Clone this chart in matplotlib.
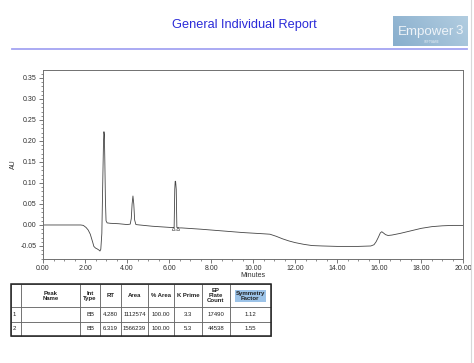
import numpy as np
import matplotlib
matplotlib.use("Agg")
import matplotlib.pyplot as plt
from matplotlib.ticker import MultipleLocator, FormatStrFormatter

plt.rcParams['font.family'] = ['Liberation Sans', 'DejaVu Sans']

# chromatogram trace (minutes, AU)
minutes = [0.00, 1.80, 1.92, 2.05, 2.15, 2.25, 2.31, 2.37, 2.42, 2.50, 2.58, 2.67,
           2.71, 2.75, 2.80, 2.85, 2.88, 2.90, 2.92, 2.94, 2.97, 3.00, 3.05, 3.20,
           3.60, 4.00, 4.15, 4.20, 4.24, 4.28, 4.32, 4.36, 4.42, 4.60, 5.20, 6.10,
           6.24, 6.27, 6.29, 6.31, 6.34, 6.37, 6.44, 6.60, 7.50, 8.50, 9.50, 10.50,
           10.80, 11.10, 11.40, 11.70, 12.00, 12.40, 12.80, 13.30, 14.00, 15.00,
           15.60, 15.75, 15.85, 15.95, 16.05, 16.12, 16.20, 16.30, 16.42, 16.60,
           17.00, 17.50, 18.00, 18.50, 19.00, 19.50, 20.00]
au = [0.000, 0.000, -0.001, -0.006, -0.012, -0.022, -0.032, -0.042, -0.051, -0.055,
      -0.057, -0.060, -0.062, -0.058, -0.020, 0.120, 0.200, 0.222, 0.215, 0.160,
      0.060, 0.010, 0.005, 0.004, 0.003, 0.001, 0.002, 0.015, 0.050, 0.069, 0.050,
      0.012, 0.001, 0.000, -0.003, -0.006, -0.006, 0.085, 0.104, 0.104, 0.085,
      -0.006, -0.007, -0.007, -0.010, -0.014, -0.018, -0.021, -0.022, -0.027,
      -0.033, -0.038, -0.042, -0.046, -0.049, -0.050, -0.051, -0.051, -0.050,
      -0.047, -0.040, -0.030, -0.019, -0.016, -0.019, -0.023, -0.025, -0.024,
      -0.020, -0.014, -0.008, -0.004, -0.002, -0.001, -0.001]

# integration marks around peak 2
mark_t = [6.22, 6.43]
mark_au = [-0.009, -0.009]

# results table
col_labels = ["", "Peak\nName", "Int\nType", "RT", "Area", "% Area", "K Prime",
              "EP\nPlate\nCount", "Symmetry\nFactor"]
row_1 = ["1", "", "BB", "4.280", "1112574", "100.00", "3.3", "17490", "1.12"]
row_2 = ["2", "", "BB", "6.319", "1566239", "100.00", "5.3", "44538", "1.55"]
col_px = [10, 59.5, 19.5, 21.3, 27.3, 26.2, 28, 27.5, 41]

W, H = 474, 363
fig = plt.figure(figsize=(W / 100, H / 100), dpi=100)
fig.patch.set_facecolor('white')

def fbox(x0, y0, x1, y1):
    return [x0 / W, 1 - y1 / H, (x1 - x0) / W, (y1 - y0) / H]

# header
fig.text(244 / W, 1 - 25 / H, "General Individual Report", color='#2a2ad8',
         fontsize=9.2, ha='center', va='center')
fig.add_artist(plt.Line2D([12 / W, 467 / W], [1 - 48.5 / H, 1 - 48.5 / H],
                          color='#a4a4f2', lw=1.3))
fig.add_artist(plt.Line2D([470.5 / W, 470.5 / W], [0, 1], color='#d8d8d8', lw=0.8))

lax = fig.add_axes(fbox(393, 16, 468, 46))
grad = np.linspace(0, 1, 100)[None, :] * np.ones((20, 1))
grad = grad + 0.3 * np.linspace(1, 0, 20)[:, None]
lax.imshow(grad, cmap=matplotlib.colors.LinearSegmentedColormap.from_list(
    'logo', ['#88aecd', '#b2cde0']), aspect='auto', extent=[0, 1, 0, 1])
lax.text(0.07, 0.36, "Empower", color='#eef3f8', fontsize=9.6, va='baseline', ha='left')
lax.text(0.84, 0.40, "3", color='#eef3f8', fontsize=9.6, va='baseline', ha='left')
lax.text(0.52, 0.14, "SOFTWARE", color='#e8eef5', fontsize=2, va='center', ha='center')
lax.set_axis_off()

# chromatogram
ax = fig.add_axes(fbox(43, 70, 463.3, 259))
ax.plot(minutes, au, color='#454545', lw=0.6)
ax.scatter(mark_t, mark_au, marker='^', s=5, facecolors='none', edgecolors='#404040',
           linewidths=0.4, zorder=3)
ax.set_xlim(0, 20)
ax.set_ylim(-0.081, 0.369)
ax.xaxis.set_major_locator(MultipleLocator(2))
ax.xaxis.set_minor_locator(MultipleLocator(0.5))
ax.yaxis.set_major_locator(MultipleLocator(0.05))
ax.yaxis.set_minor_locator(MultipleLocator(0.01))
ax.xaxis.set_major_formatter(FormatStrFormatter('%.2f'))
ax.yaxis.set_major_formatter(FormatStrFormatter('%.2f'))
ax.tick_params(which='major', length=3, width=0.6, color='#606060', labelsize=5,
               labelcolor='#303030', pad=1.5)
ax.tick_params(which='minor', length=1.5, width=0.5, color='#606060')
for s in ax.spines.values():
    s.set_color('#707070')
    s.set_linewidth(0.7)
ax.set_xlabel("Minutes", fontsize=5, color='#303030')
ax.xaxis.set_label_coords(0.5, -0.068)
ax.set_ylabel("AU", fontsize=5, color='#303030')
ax.yaxis.set_label_coords(-0.062, 0.5)

# table
tax = fig.add_axes(fbox(11, 284, 270.5, 336))
tax.set_axis_off()
widths = np.array(col_px) / sum(col_px)
tbl = tax.table(cellText=[row_1, row_2], colLabels=col_labels, colWidths=widths,
                cellLoc='center', bbox=[0, 0, 1, 1])
tbl.auto_set_font_size(False)
for (r, c), cell in tbl.get_celld().items():
    cell.set_edgecolor('#555555')
    cell.set_linewidth(0.5)
    cell.set_height(23.5 if r == 0 else 14.3)
    txt = cell.get_text()
    txt.set_fontsize(4.3)
    txt.set_color('#202020')
    if r == 0:
        txt.set_fontweight('bold')
        txt.set_linespacing(1.05)
    if c == 0 and r > 0:
        cell.set_text_props(ha='left')
        cell.PAD = 0.15
    if r == 0 and c == 8:
        txt.set_bbox(dict(facecolor='#9cc3e8', edgecolor='none', pad=0.6))
tax.add_patch(plt.Rectangle((0, 0), 1, 1, transform=tax.transAxes, fill=False,
                            edgecolor='#222222', lw=1.1, zorder=5, clip_on=False))

fig.savefig("out.png", dpi=100)
